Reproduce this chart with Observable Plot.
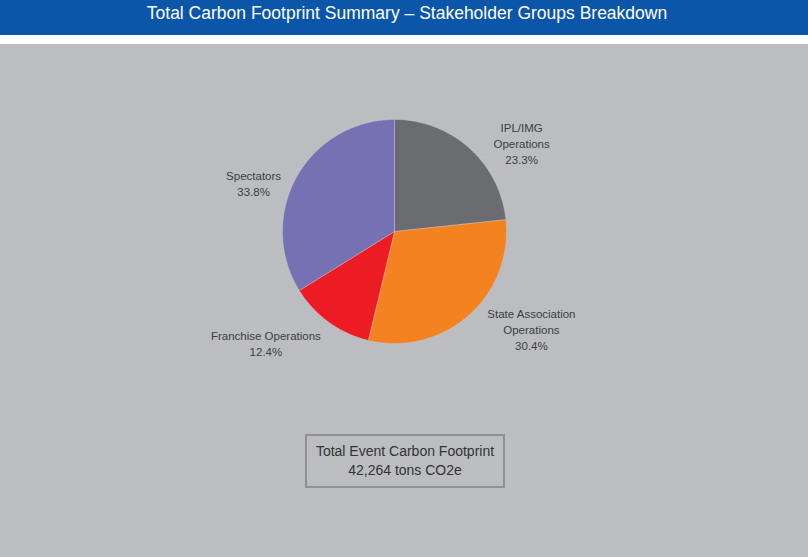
<!DOCTYPE html>
<html>
<head>
<meta charset="utf-8">
<script src="https://cdn.jsdelivr.net/npm/d3@7"></script>
<script src="https://cdn.jsdelivr.net/npm/@observablehq/plot@0.6"></script>
<style>
  html, body { margin: 0; padding: 0; background: #ffffff; width: 808px; height: 557px; overflow: hidden; }
  #banner { height: 35px; background: #0b56a8; color: #ffffff; font-family: "Liberation Sans", Arial, sans-serif; font-size: 17.5px; text-align: center; line-height: 26px; padding-left: 6px; box-sizing: border-box; }
  #gap { height: 9px; background: #ffffff; }
  #panel { position: relative; height: 513px; background: #bcbdc0; }
  #panel svg { display: block; }
  #total { position: absolute; left: 305px; top: 390px; width: 200px; height: 54px; box-sizing: border-box; border: 2px solid #909194; color: #333333; font-family: "Liberation Sans", Arial, sans-serif; font-size: 14px; line-height: 19px; text-align: center; padding-top: 6px; }
</style>
</head>
<body>
<div id="banner">Total Carbon Footprint Summary – Stakeholder Groups Breakdown</div>
<div id="gap"></div>
<div id="panel"></div>
<script>
const groups = ["IPL/IMG\nOperations", "State Association\nOperations", "Franchise Operations", "Spectators"];
const shares = [23.3, 30.4, 12.4, 33.8];
const colors = ["#6b6c70", "#f58220", "#ed1c24", "#7671b3"];
const totalLines = ["Total Event Carbon Footprint", "42,264 tons CO2e"];

const W = 808, H = 513, R = 112, CX = 394, CY = 187;
const FS = 11.5, LH = 1.39;
const rows = groups.map((g, i) => ({group: g, share: shares[i], color: colors[i]}));
const arcs = d3.pie().sort(null).value(d => d.share)(rows);

// polygon points of each slice, in unit-radius coordinates (computed from the data)
const pts = [];
arcs.forEach(a => {
  const g = a.data.group;
  pts.push({group: g, x: 0, y: 0});
  const n = Math.max(2, Math.ceil((a.endAngle - a.startAngle) / 0.01));
  for (let k = 0; k <= n; k++) {
    const t = a.startAngle + (a.endAngle - a.startAngle) * k / n;
    pts.push({group: g, x: Math.sin(t), y: -Math.cos(t)});
  }
  pts.push({group: g, x: 0, y: 0});
});

// label placement: outside the pie, pushed toward the horizontal, clear of the text box
const ctx = document.createElement("canvas").getContext("2d");
ctx.font = FS + "px 'Liberation Sans', Arial, sans-serif";
const labels = arcs.map(a => {
  const m = (a.startAngle + a.endAngle) / 2;
  const lines = (a.data.group + "\n" + a.data.share.toFixed(1) + "%").split("\n");
  const w = Math.max(...lines.map(l => ctx.measureText(l).width));
  const h = lines.length * FS * LH;
  const dir = Math.atan2(1.6 * Math.sin(m), Math.cos(m));
  const extent = (w / 2) * Math.abs(Math.sin(dir)) + (h / 2) * Math.abs(Math.cos(dir));
  const dist = (R + 6 + extent) / R;
  return {text: lines.join("\n"), x: dist * Math.sin(dir), y: -dist * Math.cos(dir)};
});

const chart = Plot.plot({
  width: W, height: H, margin: 0,
  style: {background: "transparent", fontFamily: "'Liberation Sans', Arial, sans-serif"},
  x: {domain: [-CX / R, (W - CX) / R], range: [0, W], axis: null},
  y: {domain: [-CY / R, (H - CY) / R], range: [0, H], axis: null},
  color: {domain: groups, range: colors},
  marks: [
    Plot.line(pts, {x: "x", y: "y", z: "group", fill: "group", stroke: "#c9c9cc", strokeWidth: 0.4, curve: "linear"}),
    Plot.text(labels, {x: "x", y: "y", text: "text", fontSize: FS, fill: "#3d3d3d", lineHeight: LH, textAnchor: "middle", lineAnchor: "middle"})
  ]
});
document.getElementById("panel").appendChild(chart);

const box = document.createElement("div");
box.id = "total";
box.innerHTML = totalLines.join("<br>");
document.getElementById("panel").appendChild(box);
</script>
</body>
</html>
